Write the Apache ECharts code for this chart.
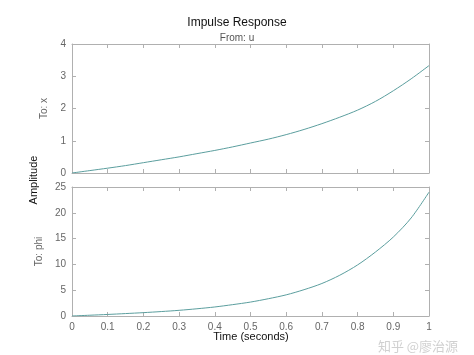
<!DOCTYPE html>
<html><head><meta charset="utf-8">
<script src="https://cdn.jsdelivr.net/npm/echarts@6/dist/echarts.min.js"></script>
<style>html,body{margin:0;padding:0;background:#fff}#c{width:474px;height:355px}</style>
</head><body><div id="c"></div>
<script>
const timeSec = [0, 0.05, 0.1, 0.15, 0.2, 0.25, 0.3, 0.35, 0.4, 0.45, 0.5, 0.55, 0.6, 0.65, 0.7, 0.75, 0.8, 0.85, 0.9, 0.95, 1.0];
const toX = [0, 0.075, 0.15, 0.23, 0.32, 0.41, 0.5, 0.6, 0.7, 0.81, 0.93, 1.05, 1.19, 1.35, 1.53, 1.73, 1.95, 2.22, 2.55, 2.92, 3.33];
const toPhi = [0, 0.15, 0.3, 0.47, 0.65, 0.86, 1.1, 1.4, 1.75, 2.2, 2.7, 3.35, 4.1, 5.1, 6.3, 7.9, 9.9, 12.4, 15.3, 19.0, 24.0];
const xTicks = ['0','0.1','0.2','0.3','0.4','0.5','0.6','0.7','0.8','0.9','1'];

const FONT = 'Liberation Sans, Arial, Helvetica, sans-serif';
const axisColor = '#b0b0b0';
const labelColor = '#666';
const lineColor = '#5b9e9e';

function xAx(gi, showLabel, pos) {
  return {
    type: 'value', gridIndex: gi, min: 0, max: 1, interval: 0.1, position: pos,
    axisLine: {show: true, onZero: false, lineStyle: {color: axisColor, width: 1}},
    axisTick: {show: true, inside: true, length: 4, lineStyle: {color: axisColor}},
    axisLabel: {show: showLabel, color: labelColor, fontSize: 10, fontFamily: FONT, margin: 6,
      formatter: v => xTicks[Math.round(v * 10)]},
    splitLine: {show: false}
  };
}
function yAx(gi, max, interval, pos, showLabel, name, gap) {
  return {
    type: 'value', gridIndex: gi, min: 0, max: max, interval: interval, position: pos,
    name: name || '', nameLocation: 'middle', nameGap: gap || 0,
    nameTextStyle: {color: labelColor, fontSize: 10, fontFamily: FONT},
    axisLine: {show: true, onZero: false, lineStyle: {color: axisColor, width: 1}},
    axisTick: {show: true, inside: true, length: 4, lineStyle: {color: axisColor}},
    axisLabel: {show: showLabel, color: labelColor, fontSize: 10, fontFamily: FONT, margin: 6},
    splitLine: {show: false}
  };
}

const chart = echarts.init(document.getElementById('c'), null, {renderer: 'canvas'});
chart.setOption({
  animation: false,
  backgroundColor: '#fff',
  title: [
    {text: 'Impulse Response', left: 'center', top: 12,
      textStyle: {fontSize: 12, fontWeight: 'normal', color: '#111', fontFamily: FONT}},
    {text: 'From: u', left: 'center', top: 28,
      textStyle: {fontSize: 10, fontWeight: 'normal', color: '#555', fontFamily: FONT}}
  ],
  grid: [
    {left: 72, right: 45, top: 44, height: 129},
    {left: 72, right: 45, top: 187, height: 129}
  ],
  xAxis: [
    xAx(0, false, 'bottom'), xAx(0, false, 'top'),
    xAx(1, true, 'bottom'), xAx(1, false, 'top')
  ],
  yAxis: [
    yAx(0, 4, 1, 'left', true, 'To: x', 13), yAx(0, 4, 1, 'right', false),
    yAx(1, 25, 5, 'left', true, 'To: phi', 19), yAx(1, 25, 5, 'right', false)
  ],
  series: [
    {type: 'line', xAxisIndex: 0, yAxisIndex: 0, data: timeSec.map((t, i) => [t, toX[i]]),
      smooth: 0.3, showSymbol: false, lineStyle: {color: lineColor, width: 1}},
    {type: 'line', xAxisIndex: 2, yAxisIndex: 2, data: timeSec.map((t, i) => [t, toPhi[i]]),
      smooth: 0.3, showSymbol: false, lineStyle: {color: lineColor, width: 1}}
  ],
  graphic: [
    {type: 'text', x: 34, y: 180, rotation: Math.PI / 2,
      style: {text: 'Amplitude', fill: '#111', font: '11px ' + FONT, textAlign: 'center', textVerticalAlign: 'middle'}},
    {type: 'text', x: 251, y: 337,
      style: {text: 'Time (seconds)', fill: '#111', font: '11px ' + FONT, textAlign: 'center', textVerticalAlign: 'middle'}},
    {type: 'text', x: 418, y: 346,
      style: {text: '知乎 @廖治源', fill: '#d0d0d0', font: '13px "Noto Sans CJK SC"', textAlign: 'center', textVerticalAlign: 'middle'}}
  ]
});
</script></body></html>
